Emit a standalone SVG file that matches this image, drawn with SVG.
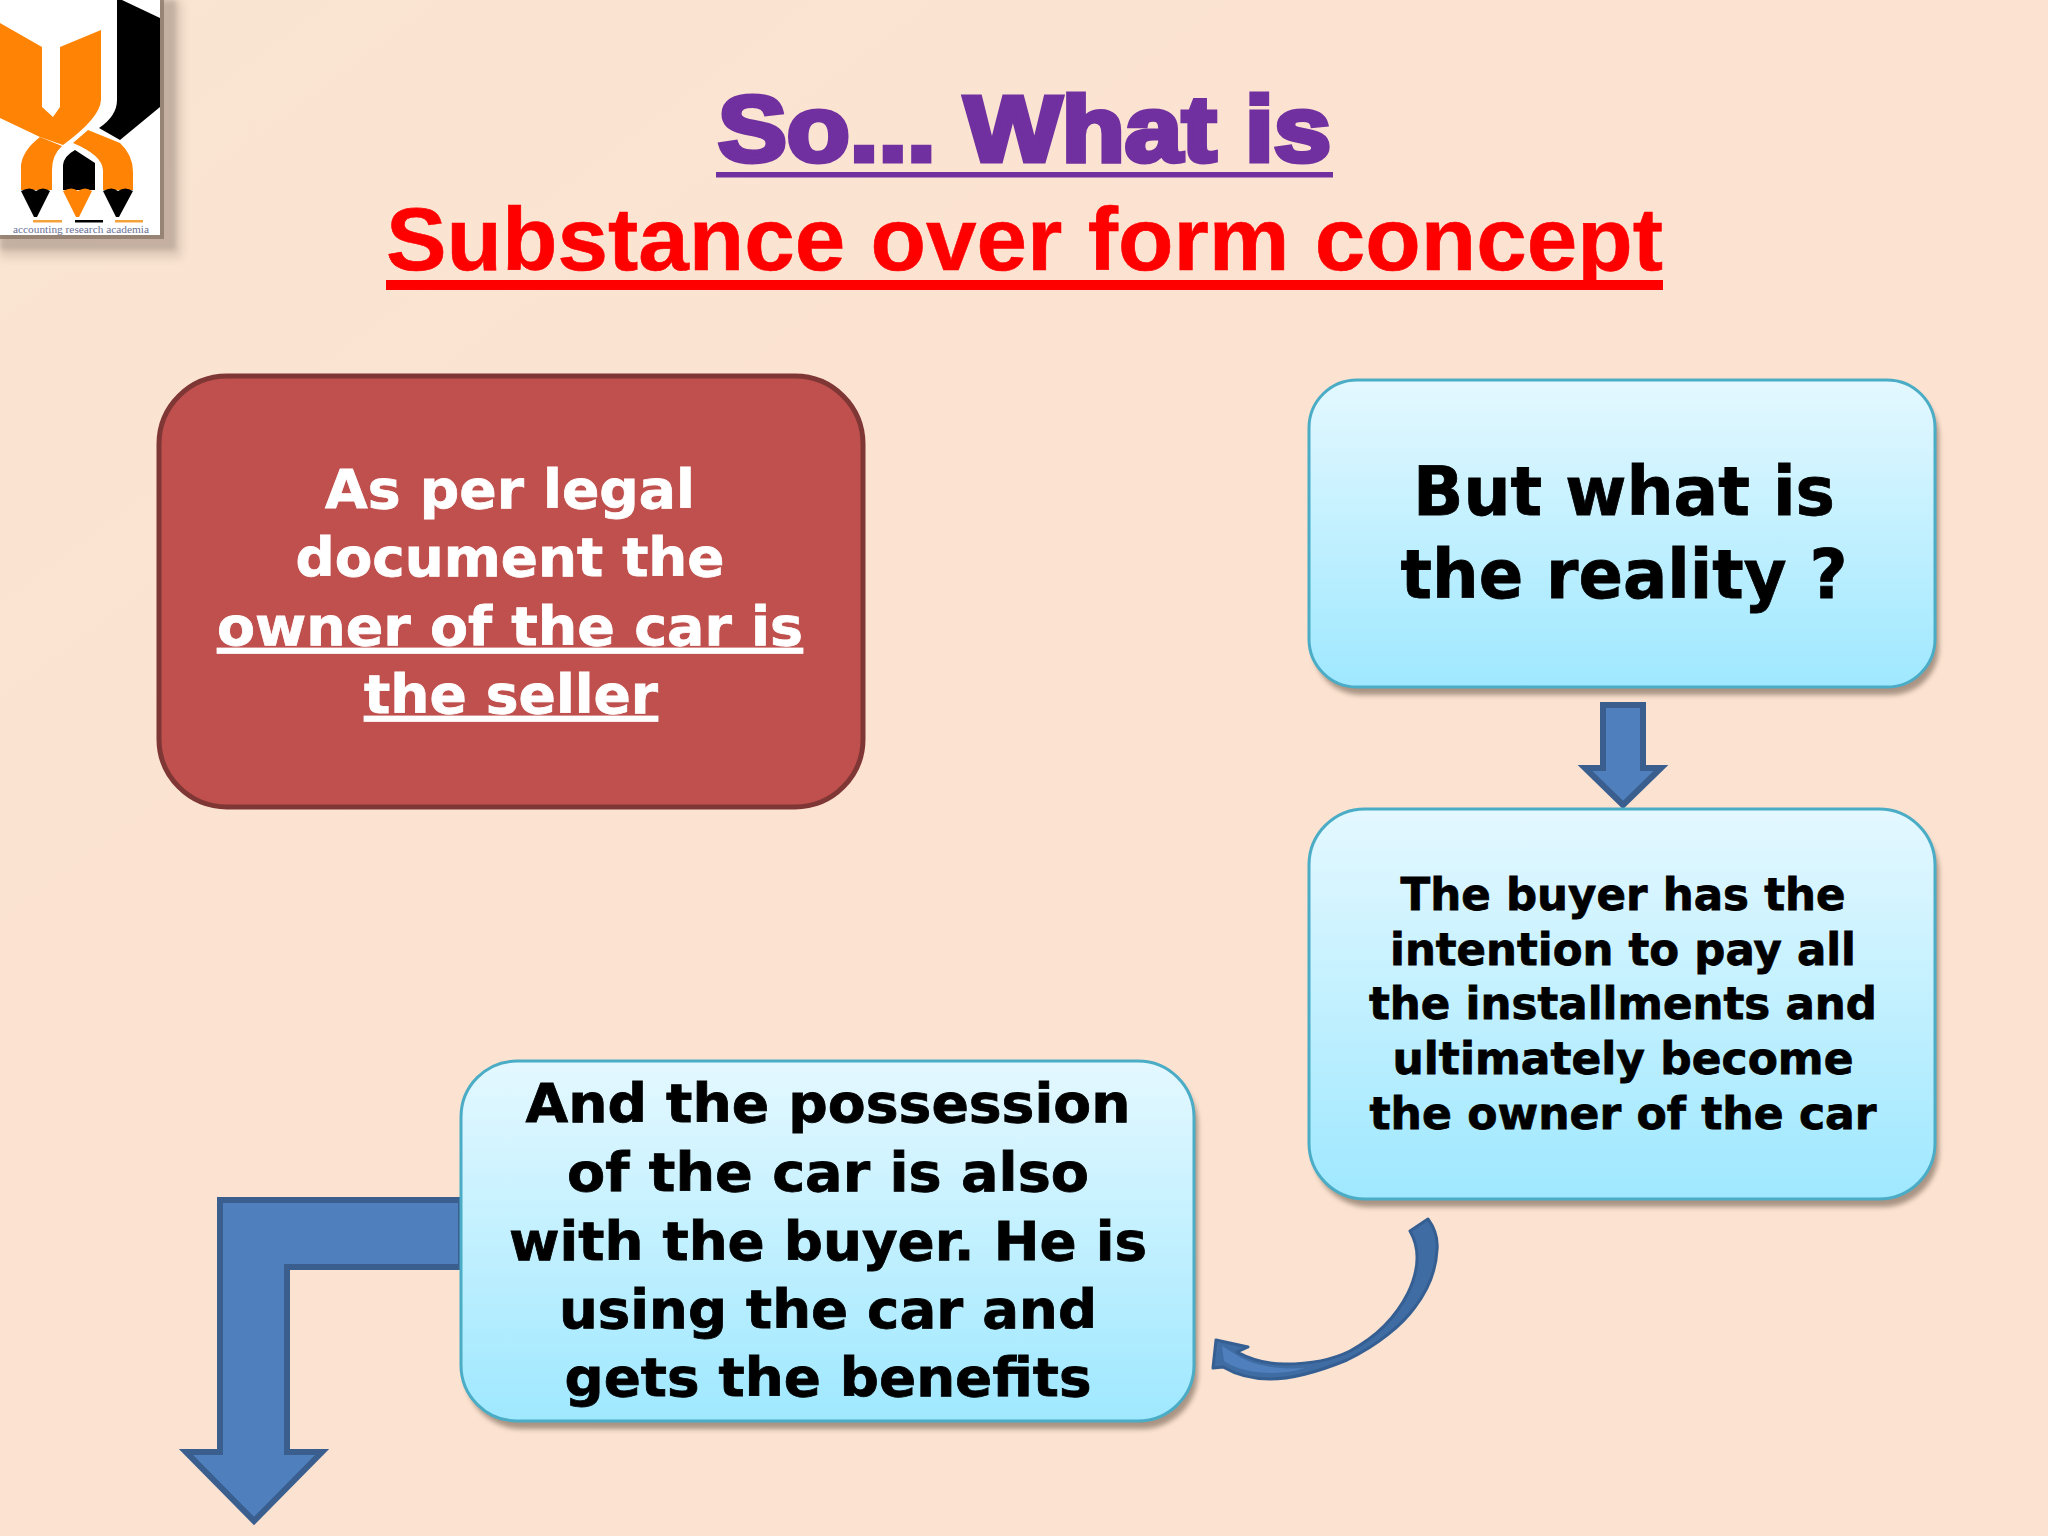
<svg xmlns="http://www.w3.org/2000/svg" width="2048" height="1536" viewBox="0 0 2048 1536">
<style>
.t{font-family:"DejaVu Sans",Verdana,sans-serif;font-weight:700;text-anchor:middle;stroke-width:.8}
.w{fill:#fff;stroke:#fff;font-size:54px}
.k{fill:#000;stroke:#000}
.blue{fill:url(#bg);stroke:#4BACC6;stroke-width:3}
.shd{fill:#7d6a5c;opacity:.65;filter:url(#sh)}
.arr{fill:#4F7FBD;stroke:#3A5F8F;stroke-width:6}
.o{fill:#FF8405}
.b{fill:#000}
</style>
<defs>
<linearGradient id="bg" x1="0" y1="0" x2="0" y2="1"><stop offset="0" stop-color="#E4F8FF"/><stop offset="1" stop-color="#9FE8FF"/></linearGradient>
<linearGradient id="pg" x1="0" y1="0" x2="1" y2="1"><stop offset="0" stop-color="#F9E5D2"/><stop offset=".35" stop-color="#FCE3D1"/><stop offset="1" stop-color="#FCE2D0"/></linearGradient>
<filter id="sh" x="-5%" y="-5%" width="110%" height="110%"><feGaussianBlur stdDeviation="2.5"/></filter>
<filter id="sl" x="-20%" y="-20%" width="140%" height="140%"><feGaussianBlur stdDeviation="5"/></filter>
<clipPath id="lc"><rect width="160" height="235"/></clipPath>
</defs>
<rect width="2048" height="1536" fill="url(#pg)"/>
<g id="logo">
<rect x="0" y="0" width="182" height="258" fill="#C9B5A4" opacity=".55" filter="url(#sl)"/>
<rect x="0" y="0" width="176" height="250" fill="#B9A596" opacity=".7" filter="url(#sh)"/>
<rect x="0" y="0" width="164" height="239" fill="#8a7566" opacity=".75"/>
<rect x="0" y="0" width="160" height="235" fill="#fff"/>
<g clip-path="url(#lc)">
<path class="b" d="M122 0L160 18V107L120 140L99 128Q117 116 117 100V0Z"/>
<path class="o" d="M0 23L42 47V107L53 117L60 107V47L101 30V100Q100 118 63 145L40 137L0 118Z"/>
<path class="o" d="M40 137L62 146Q52 155 52 170V190H21V165Q23 150 40 137Z"/>
<path class="o" d="M88 130L120 143Q133 155 133 172V190H103V170Q102 155 73 143Z"/>
<path class="b" d="M75 150L95 163V190H63V165Q64 156 75 150Z"/>
<path class="b" d="M21 191Q30 186 36 191Q43 186 50 191L37 217H34Z"/>
<path class="o" d="M63 191Q72 186 78 191Q85 186 92 191L79 217H76Z"/>
<path class="b" d="M103 191Q112 186 118 191Q125 186 133 191L119 217H116Z"/>
<rect x="33" y="220" width="29" height="2.5" fill="#F5A23C"/>
<rect x="75" y="220" width="28" height="2.5" fill="#000"/>
<rect x="115" y="220" width="28" height="2.5" fill="#F5A23C"/>
<text x="81" y="233" text-anchor="middle" font-family="Liberation Serif,serif" font-size="10" textLength="136" lengthAdjust="spacingAndGlyphs" fill="#6b7296">accounting research academia</text>
</g>
</g>
<g id="title">
<text x="1024.5" y="161" text-anchor="middle" font-family="Liberation Sans,Arial,sans-serif" font-weight="700" font-size="92" fill="#7030A0" stroke="#7030A0" stroke-width="5" textLength="613" lengthAdjust="spacingAndGlyphs">So... What is</text>
<rect x="716" y="172" width="617" height="5.5" fill="#7030A0"/>
<text x="1024.5" y="270" text-anchor="middle" font-family="Liberation Sans,Arial,sans-serif" font-weight="700" font-size="89" fill="#F00" stroke="#F00" stroke-width=".6" textLength="1277" lengthAdjust="spacingAndGlyphs">Substance over form concept</text>
<rect x="386" y="280" width="1277" height="10" fill="#F00"/>
</g>
<g id="connectors">
<path class="arr" d="M1603 705H1643V768H1661L1623 805L1585 768H1603Z"/>
<path class="arr" d="M461 1200H220V1452H186L254 1521L322 1452H287V1267H461Z"/>
<path d="M1410 1231L1428 1219C1436 1230 1438 1240 1437 1250C1436 1270 1428 1290 1415 1307C1402 1325 1378 1345 1347 1360C1320 1371 1295 1379 1270 1379C1250 1379 1235 1374 1223 1367L1213 1368L1216 1340L1248 1347L1237 1352C1250 1359 1265 1364 1285 1364C1310 1364 1332 1360 1350 1351C1378 1336 1397 1315 1408 1293C1418 1272 1421 1250 1410 1231Z" fill="#3F6CA3" stroke="#355F92" stroke-width="3" stroke-linejoin="round"/>
<path d="M1222 1346L1238 1356C1255 1366 1280 1370 1305 1368C1280 1376 1245 1375 1224 1361Z" fill="#4F7FBD"/>
</g>
<g id="legal">
<rect x="159" y="376" width="704" height="431" rx="68" fill="#C0504D" stroke="#7F3735" stroke-width="5"/>
<text class="t w" x="510" y="508" textLength="370" lengthAdjust="spacingAndGlyphs">As per legal</text>
<text class="t w" x="510" y="576" textLength="429" lengthAdjust="spacingAndGlyphs">document the</text>
<text class="t w" x="510" y="645" textLength="586" lengthAdjust="spacingAndGlyphs" text-decoration="underline">owner of the car is</text>
<text class="t w" x="511" y="713" textLength="294" lengthAdjust="spacingAndGlyphs" text-decoration="underline">the seller</text>
</g>
<g id="reality">
<rect class="shd" x="1313" y="388" width="626" height="307" rx="48"/>
<rect class="blue" x="1309" y="380" width="626" height="307" rx="48"/>
<text class="t k" x="1624" y="515" font-size="68" textLength="422" lengthAdjust="spacingAndGlyphs">But what is</text>
<text class="t k" x="1624" y="598" font-size="68" textLength="447" lengthAdjust="spacingAndGlyphs">the reality ?</text>
</g>
<g id="intention">
<rect class="shd" x="1313" y="817" width="626" height="390" rx="56"/>
<rect class="blue" x="1309" y="809" width="626" height="390" rx="56"/>
<text class="t k" x="1623" y="910" font-size="45" textLength="445" lengthAdjust="spacingAndGlyphs">The buyer has the</text>
<text class="t k" x="1623" y="965" font-size="45" textLength="466" lengthAdjust="spacingAndGlyphs">intention to pay all</text>
<text class="t k" x="1623" y="1019" font-size="45" textLength="508" lengthAdjust="spacingAndGlyphs">the installments and</text>
<text class="t k" x="1623" y="1074" font-size="45" textLength="461" lengthAdjust="spacingAndGlyphs">ultimately become</text>
<text class="t k" x="1623" y="1129" font-size="45" textLength="507" lengthAdjust="spacingAndGlyphs">the owner of the car</text>
</g>
<g id="possession">
<rect class="shd" x="465" y="1069" width="733" height="360" rx="56"/>
<rect class="blue" x="461" y="1061" width="733" height="360" rx="56"/>
<text class="t k" x="828" y="1122" font-size="54" textLength="605" lengthAdjust="spacingAndGlyphs">And the possession</text>
<text class="t k" x="828" y="1191" font-size="54" textLength="522" lengthAdjust="spacingAndGlyphs">of the car is also</text>
<text class="t k" x="828" y="1260" font-size="54" textLength="638" lengthAdjust="spacingAndGlyphs">with the buyer. He is</text>
<text class="t k" x="828" y="1328" font-size="54" textLength="538" lengthAdjust="spacingAndGlyphs">using the car and</text>
<text class="t k" x="828" y="1396" font-size="54" textLength="527" lengthAdjust="spacingAndGlyphs">gets the benefits</text>
</g>
</svg>
